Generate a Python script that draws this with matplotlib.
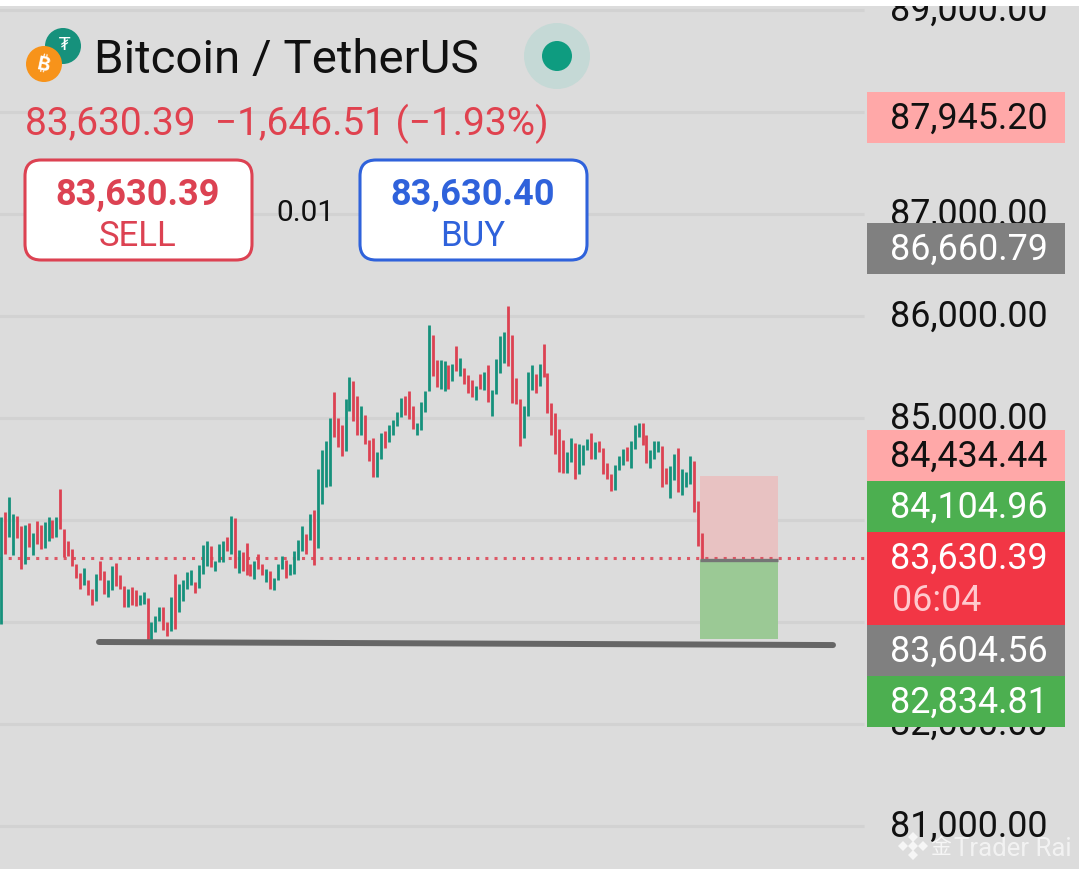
#!/usr/bin/env python3
import matplotlib
matplotlib.use("Agg")
import matplotlib.pyplot as plt
from matplotlib.patches import Circle, FancyBboxPatch, Rectangle, RegularPolygon

plt.rcParams["font.family"] = ["Roboto", "DejaVu Sans"]

highs = [84030, 84079, 84226, 84059, 84039, 83941, 83951, 83971, 83873, 83990,
         83951, 83980, 84030, 84000, 84030, 84304, 83912, 83794, 83716, 83569,
         83480, 83530, 83412, 83324, 83471, 83598, 83500, 83412, 83549, 83579,
         83461, 83353, 83324, 83343, 83314, 83265, 83294, 83236, 83000, 83059,
         83147, 83147, 83000, 83245, 83471, 83373, 83412, 83490, 83510, 83392,
         83559, 83755, 83794, 83745, 83598, 83765, 83794, 83833, 84039, 84020,
         83706, 83686, 83775, 83569, 83598, 83667, 83569, 83520, 83500, 83431,
         83569, 83647, 83608, 83569, 83696, 83804, 83941, 83863, 84059, 84098,
         84500, 84686, 84775, 85000, 85255, 85000, 84931, 85186, 85402, 85363,
         85216, 85118, 85029, 84784, 84804, 84667, 84853, 84873, 84931, 84980,
         85059, 85196, 85216, 85265, 85118, 84951, 85157, 85265, 85912, 85814,
         85569, 85569, 85559, 85520, 85530, 85706, 85588, 85490, 85422, 85373,
         85314, 85431, 85451, 85520, 85275, 85579, 85804, 85843, 86098, 85814,
         85392, 85186, 85118, 85451, 85520, 85431, 85530, 85725, 85441, 85147,
         85049, 84892, 84784, 84667, 84804, 84755, 84745, 84735, 84794, 84853,
         84765, 84775, 84706, 84559, 84451, 84539, 84628, 84696, 84716, 84775,
         84931, 84951, 84951, 84833, 84686, 84775, 84775, 84725, 84510, 84530,
         84647, 84706, 84500, 84471, 84628, 84579, 84186, 83873]
lows = [82981, 83667, 83833, 83657, 83824, 83520, 83569, 83735, 83657, 83765,
        83716, 83726, 83794, 83824, 83833, 83912, 83637, 83647, 83549, 83431,
        83324, 83363, 83265, 83167, 83206, 83412, 83275, 83245, 83314, 83353,
        83324, 83147, 83147, 83167, 83157, 83167, 83177, 82804, 82804, 82902,
        83010, 82922, 82863, 82912, 82931, 83098, 83206, 83324, 83363, 83284,
        83333, 83471, 83549, 83539, 83500, 83588, 83588, 83696, 83667, 83530,
        83480, 83500, 83461, 83451, 83422, 83520, 83461, 83392, 83324, 83314,
        83412, 83520, 83431, 83461, 83471, 83608, 83696, 83667, 83804, 83559,
        83726, 84157, 84324, 84333, 84814, 84716, 84628, 84676, 85069, 84971,
        84833, 84833, 84745, 84579, 84422, 84422, 84598, 84706, 84765, 84833,
        84922, 85010, 85029, 84990, 84892, 84833, 84882, 85059, 85265, 85412,
        85304, 85284, 85265, 85284, 85363, 85461, 85412, 85333, 85245, 85206,
        85176, 85284, 85275, 85157, 85020, 85235, 85441, 85539, 85510, 85147,
        85137, 84725, 84804, 85020, 85275, 85245, 85314, 85402, 85049, 84833,
        84647, 84471, 84461, 84461, 84569, 84402, 84451, 84539, 84686, 84598,
        84598, 84667, 84451, 84402, 84284, 84294, 84490, 84539, 84579, 84510,
        84696, 84814, 84735, 84559, 84510, 84598, 84667, 84324, 84353, 84216,
        84392, 84275, 84245, 84324, 84353, 84079, 83745, 83608]
bar_dirs = ("GRGGRRGRGR" "RGGRGRRRRR" "RGRRGRRGGR" "RRGRRGGRGG" "GRRGRGGGGR"
            "GGGRGGGRGR" "GRRRGRRGRG" "GGRGGGGRGR" "GGGGRRRGGR" "RGRRRGGRGG"
            "GGRRRGGGGR" "RGGRGRGRRR" "GRGRGGGGRR" "RRGGGRGRRR" "RRRGGRGGGR"
            "GRRRRGGGRG" "GGRRGGGRRG" "GRGGGRRR")

grid_prices = [89000, 88000, 87000, 86000, 85000, 84000, 83000, 82000, 81000]
tick_prices = [89000, 87000, 86000, 85000, 82000, 81000]
last_price = 83630.39
entry_price = 83604.56
stop_price = 84434.44
target_price = 82834.81
support_prices = [82804, 82774]
support_bars = [24.75, 210.1]
zone_bars = [176.5, 196.2]

# price tags down the right side
tag_labels = ["87,945.20", "86,660.79", "84,434.44", "84,104.96", "83,604.56", "82,834.81"]
tag_colors = ["#ffa8a8", "#808080", "#ffa8a8", "#4caf50", "#808080", "#4caf50"]
tag_text = ["#111111", "white", "#111111", "white", "white", "white"]
tag_tops = [93, 224, 431, 482, 626, 677]

RED = "#dc4252"
GREEN = "#16917c"
BG = "#dcdcdc"
INK = "#111111"
TICK_SIZE = 25.8

fig = plt.figure(figsize=(10.79, 8.7), dpi=100, facecolor=BG)
ax = fig.add_axes([0, 0, 1, 1], facecolor=BG)
# 3.96 px per bar, 102 px per 1000 of price
ax.set_xlim(-1 / 3.96, 1078 / 3.96)
ax.set_ylim(86000 - 553 / 0.102, 86000 + 317 / 0.102)
ax.axis("off")

x_end = (864 - 1) / 3.96
ax.hlines(grid_prices, -1, x_end, color="#d2d2d2", lw=2.2, zorder=1)
ax.hlines(last_price, -1, x_end, color=RED, lw=2.2, linestyle=(0, (1, 2)), alpha=0.85, zorder=3)

for i, (hi, lo, d) in enumerate(zip(highs, lows, bar_dirs)):
    ax.vlines(i, lo, hi, color=GREEN if d == "G" else RED, lw=2.0, zorder=4)

zw = zone_bars[1] - zone_bars[0]
ax.add_patch(Rectangle((zone_bars[0], entry_price), zw, stop_price - entry_price,
                       fc="#e8c2c2", ec="none", zorder=2))
ax.add_patch(Rectangle((zone_bars[0], target_price), zw, entry_price - target_price,
                       fc="#9bc995", ec="none", zorder=2))
ax.hlines(entry_price, zone_bars[0], zone_bars[1], color="#757575", lw=2.4, zorder=5)
ax.plot(support_bars, support_prices, color="#666666", lw=4.3, solid_capstyle="round", zorder=5)

ytrans = ax.get_yaxis_transform()
for p in tick_prices:
    ax.annotate(f"{p:,.2f}", xy=(1048 / 1079, p), xycoords=ytrans, xytext=(0, 4),
                textcoords="offset pixels", ha="right", va="center_baseline",
                fontsize=TICK_SIZE, color=INK, zorder=6)

# overlay in pixels for the app furniture
ui = fig.add_axes([0, 0, 1, 1], facecolor="none")
ui.set_xlim(0, 1079)
ui.set_ylim(870, 0)
ui.axis("off")

ui.add_patch(Rectangle((0, 0), 1079, 7, fc="white", ec="none", zorder=7))

for lab, col, tc, top in zip(tag_labels, tag_colors, tag_text, tag_tops):
    ui.add_patch(Rectangle((867, top), 198, 51, fc=col, ec="none", zorder=8))
    ui.text(1048, top + 22, lab, ha="right", va="center_baseline", fontsize=TICK_SIZE, color=tc, zorder=9)
ui.add_patch(Rectangle((867, 533), 198, 93, fc="#f23645", ec="none", zorder=8))
ui.text(1048, 555, "83,630.39", ha="right", va="center_baseline", fontsize=TICK_SIZE, color="white", zorder=9)
ui.text(892, 597, "06:04", ha="left", va="center_baseline", fontsize=TICK_SIZE, color="#ffc9ce", zorder=9)

# header
ui.add_patch(Circle((63, 47), 18, fc="#16917c", ec="none", zorder=7))
ui.text(65, 45, "₮", ha="center", va="center", fontsize=13, color="white", zorder=8, family="DejaVu Sans")
ui.add_patch(Circle((44, 65), 18, fc="#f7931a", ec="none", zorder=9))
ui.text(44, 65, "₿", ha="center", va="center", fontsize=14, fontweight="bold", rotation=-12, color="white",
        zorder=10, family=["Inter", "Noto Sans", "Open Sans", "Lato", "DejaVu Sans"])
ui.text(94, 56, "Bitcoin / TetherUS", ha="left", va="center_baseline", fontsize=34.2, color=INK, zorder=8)
ui.add_patch(Circle((557, 57), 33, fc="#c5d9d6", ec="none", zorder=7))
ui.add_patch(Circle((557, 57), 15, fc="#0e9c80", ec="none", zorder=8))
ui.text(25, 119, "83,630.39  −1,646.51 (−1.93%)", ha="left", va="center_baseline",
        fontsize=28, color="#e0424f", zorder=8)

for x0, col, price, side in [(25, RED, "83,630.39", "SELL"), (360, "#2f62db", "83,630.40", "BUY")]:
    ui.add_patch(FancyBboxPatch((x0, 161), 227, 100, boxstyle="round,pad=0,rounding_size=16",
                                fc="white", ec=col, lw=2.2, zorder=7))
    ui.text(x0 + 113, 191, price, ha="center", va="center_baseline", fontsize=26,
            fontweight="bold", color=col, zorder=8)
    ui.text(x0 + 113, 233, side, ha="center", va="center_baseline", fontsize=25, color=col, zorder=8)
ui.text(305, 210, "0.01", ha="center", va="center_baseline", fontsize=21.5, color=INK, zorder=8)

# watermark
for dx, dy in [(0, 0), (0, -9), (0, 9), (-10, 0), (10, 0)]:
    ui.add_patch(RegularPolygon((913 + dx, 847 + dy), 4, radius=5, fc="white", ec="none", alpha=0.75, zorder=10))
ui.text(941, 847, "金", ha="center", va="center", fontsize=15, color="white", alpha=0.75, zorder=10,
        family=["Noto Sans CJK SC", "DejaVu Sans"])
ui.text(954, 847, "Trader Rai", ha="left", va="center_baseline", fontsize=18.5,
        color="white", alpha=0.65, zorder=10)

fig.savefig("out.png", dpi=100, facecolor=BG)
